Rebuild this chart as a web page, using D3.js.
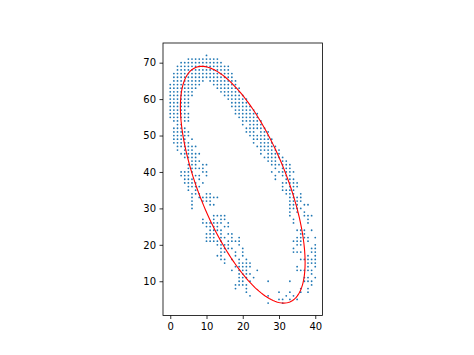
<!DOCTYPE html>
<html lang="en">
<head>
<meta charset="utf-8">
<title>Ellipse fit</title>
<script src="https://cdn.jsdelivr.net/npm/d3@7"></script>
<style>
body { margin: 0; background: #fff; }
svg { display: block; }
.axis text { font-family: "DejaVu Sans", sans-serif; font-size: 10px; fill: #000; }
.axis path { display: none; }
.axis line { stroke: #000; stroke-width: 0.8; }
</style>
</head>
<body>
<script>
// scatter rows: [y, list of x values]
var rows = [
  [72, [10]],
  [71, [5,6,7,8,9,10,11,12,13]],
  [70, [3,4,5,6,7,8,9,10,11,12,13,14]],
  [69, [2,3,4,5,6,7,8,9,10,11,12,13,14,15,16]],
  [68, [2,3,4,5,6,7,8,9,10,11,12,13,14,15,16]],
  [67, [1,2,3,4,5,6,7,8,9,10,11,12,13,14,15,16,17]],
  [66, [1,2,3,4,5,6,7,8,9,10,11,12,13,14,15,16,17]],
  [65, [1,2,3,4,5,6,7,8,9,11,12,13,14,15,16,17,18]],
  [64, [0,1,2,3,4,5,6,7,8,12,13,14,15,16,17,18]],
  [63, [0,1,2,3,4,5,6,7,13,14,15,16,17,18,19]],
  [62, [0,1,2,3,4,5,6,14,15,16,17,18,19]],
  [61, [0,1,2,3,4,5,6,15,16,17,18,19,20]],
  [60, [0,1,2,3,4,5,16,17,18,19,20,21]],
  [59, [0,1,2,3,4,5,17,18,19,20,21]],
  [58, [0,1,2,3,4,5,17,18,19,20,21,22]],
  [57, [0,1,2,3,4,18,19,20,21,22,23]],
  [56, [0,1,2,3,4,5,18,19,20,21,22,23,24]],
  [55, [0,1,2,3,4,5,19,20,21,22,23,24]],
  [54, [1,2,4,5,20,21,22,23,24,25]],
  [53, [2,3,20,22,23,24,25]],
  [52, [1,2,3,4,21,22,23,24,25,26]],
  [51, [1,2,3,4,5,21,22,23,25,26,27]],
  [50, [1,2,3,4,5,22,23,24,25,26,27]],
  [49, [1,2,3,4,6,23,24,25,26,27,28]],
  [48, [1,2,3,4,5,23,25,26,27,28]],
  [47, [2,3,4,5,6,7,24,25,26,27,28,29]],
  [46, [2,4,5,6,25,26,27,28,29,30]],
  [45, [3,4,5,6,7,8,25,27,28,29,30]],
  [44, [4,5,6,7,26,27,28,29,30,31]],
  [43, [6,7,8,27,28,29,31,32]],
  [42, [5,6,7,9,10,28,29,30,31,32,33]],
  [41, [5,6,7,8,9,29,31,32,33]],
  [40, [3,4,5,6,9,10,28,30,31,32,33,34]],
  [39, [3,4,5,7,8,10,29,31,32,33]],
  [38, [4,5,6,8,29,32,33,34]],
  [37, [4,5,6,7,9,31,32,33,34,35]],
  [36, [5,6,7,8,31,33,34,35]],
  [35, [5,7,31,32,33,34]],
  [34, [6,7,8,10,11,32,33,34,36]],
  [33, [6,8,9,10,11,12,13,33,34,35,36]],
  [32, [6,9,10,11,33,34,35,36]],
  [31, [6,11,12,33,34,35,37,38]],
  [30, [6,33,34,35,36]],
  [29, [33,35,37]],
  [28, [12,13,14,15,33,37,38,39]],
  [27, [9,12,14,15,34,38]],
  [26, [9,10,11,12,13,14,16,34,38]],
  [25, [10,11,12,13,15,16]],
  [24, [11,12,13,14,35,36,37,39]],
  [23, [10,11,12,14,16,17,36,37]],
  [22, [10,11,12,14,15,17,19,35,36,37,38,40]],
  [21, [10,11,12,13,14,16,17,18,19,34,35,36,38]],
  [20, [13,14,15,16,19,35,36,40]],
  [19, [14,15,16,17,20,34,39,40]],
  [18, [14,15,18,20,34,35,36,39,40]],
  [17, [13,14,18,20,38,40]],
  [16, [14,15,17,19,21,36,37,38,39,40]],
  [15, [15,19,20,21,22,38,39,40]],
  [14, [18,19,20,21,22,35,38,40]],
  [13, [17,19,20,21,24,35,36,37,38,39]],
  [12, [19,20,21,22,39]],
  [11, [19,20,21,23,37,38,40]],
  [10, [19,20,22,27,33,37,38,39]],
  [9, [18,19,20,21,39]],
  [8, [18,21,36,38]],
  [7, [21,30,33,36,38]],
  [6, [22,27,32,34]],
  [5, [30,31,33,35]],
  [4, [27,31]]
];

// fitted ellipse: centre, semi axes, rotation (degrees)
var ellCenter = [20, 36.5];
var ellAxes = [34.7, 12.15];
var ellAngle = 112;

var xTicks = [0, 10, 20, 30, 40];
var yTicks = [10, 20, 30, 40, 50, 60, 70];

var w = 474, h = 355;
var padL = 163, padR = 322.5, padT = 43, padB = 315.5;

var svg = d3.select("body").append("svg")
  .attr("width", w)
  .attr("height", h);

var x = d3.scaleLinear().domain([-2, 42]).range([padL, padR]);
var y = d3.scaleLinear().domain([0.6, 75.4]).range([padB, padT]);

var points = [];
rows.forEach(function(r) {
  r[1].forEach(function(v) { points.push([v, r[0]]); });
});

svg.append("g")
  .selectAll("circle")
  .data(points)
  .enter()
  .append("circle")
  .attr("cx", function(d) { return x(d[0]); })
  .attr("cy", function(d) { return y(d[1]); })
  .attr("r", 0.9)
  .attr("fill", "#1f77b4");

// ellipse outline
var t = d3.range(0, 361, 2).map(function(a) { return a * Math.PI / 180; });
var th = ellAngle * Math.PI / 180;
var ellPts = t.map(function(p) {
  var a = ellAxes[0] * Math.cos(p), b = ellAxes[1] * Math.sin(p);
  return [ellCenter[0] + a * Math.cos(th) - b * Math.sin(th),
          ellCenter[1] + a * Math.sin(th) + b * Math.cos(th)];
});

svg.append("path")
  .datum(ellPts)
  .attr("fill", "none")
  .attr("stroke", "red")
  .attr("stroke-width", 1.1)
  .attr("d", d3.line()
    .x(function(d) { return x(d[0]); })
    .y(function(d) { return y(d[1]); })
    .curve(d3.curveLinearClosed));

svg.append("g")
  .attr("class", "axis")
  .attr("transform", "translate(0," + padB + ")")
  .call(d3.axisBottom(x).tickValues(xTicks).tickSize(3.5).tickPadding(3.5));

svg.append("g")
  .attr("class", "axis")
  .attr("transform", "translate(" + padL + ",0)")
  .call(d3.axisLeft(y).tickValues(yTicks).tickSize(3.5).tickPadding(3.5));

svg.append("rect")
  .attr("x", padL)
  .attr("y", padT)
  .attr("width", padR - padL)
  .attr("height", padB - padT)
  .attr("fill", "none")
  .attr("stroke", "#000")
  .attr("stroke-width", 0.8);
</script>
</body>
</html>
